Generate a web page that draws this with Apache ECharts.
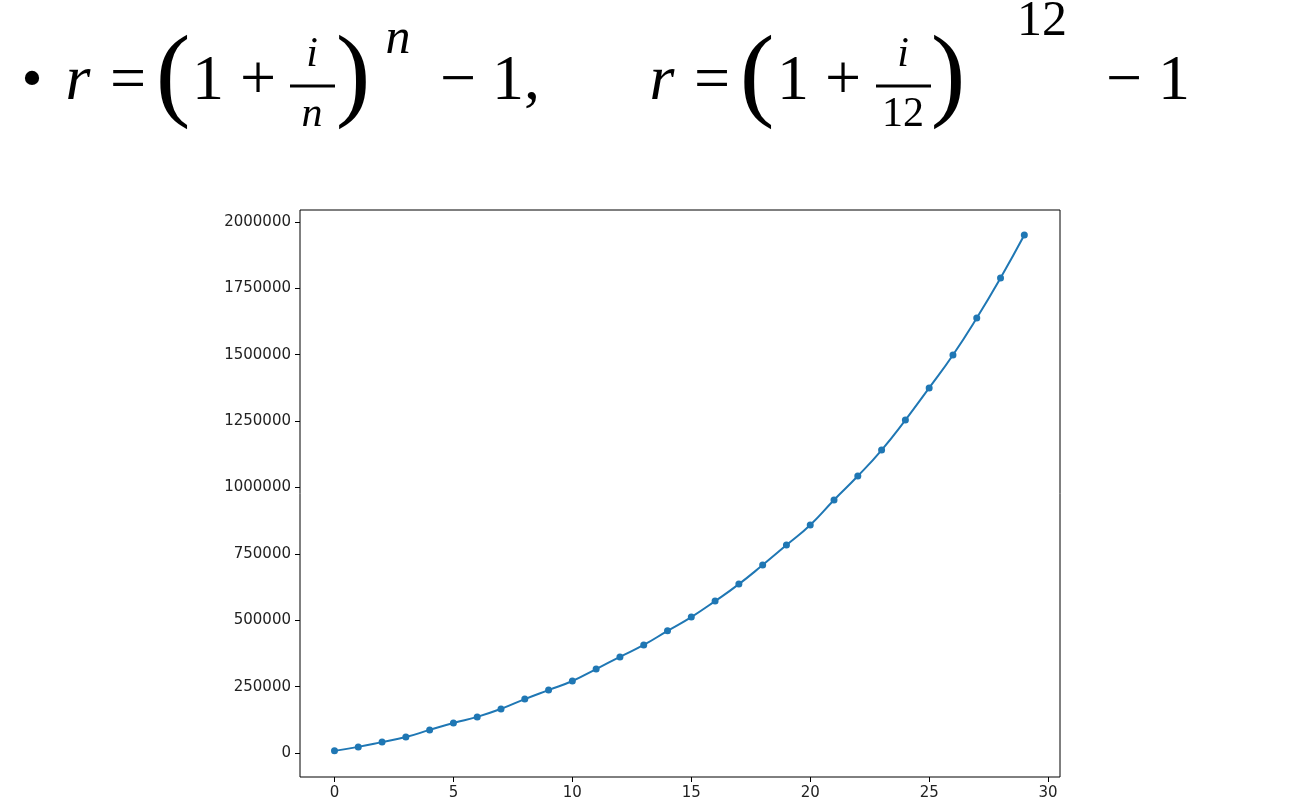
<!DOCTYPE html>
<html>
<head>
<meta charset="utf-8">
<script src="https://cdn.jsdelivr.net/npm/echarts@6/dist/echarts.min.js"></script>
<style>html,body{margin:0;padding:0;background:#fff}#chart{width:1298px;height:811px}</style>
</head>
<body>
<div id="chart"></div>
<script>
// 数据
const years = [0,1,2,3,4,5,6,7,8,9,10,11,12,13,14,15,16,17,18,19,20,21,22,23,24,25,26,27,28,29];
const balances = [8000,23000,41000,60000,87000,113000,136000,166000,203000,237000,271000,316000,362000,407000,460000,512000,572000,636000,708000,783000,859000,953000,1043000,1141000,1254000,1375000,1499000,1638000,1789000,1951000];
const xTicks = [0,5,10,15,20,25,30];
const yTicks = [0,250000,500000,750000,1000000,1250000,1500000,1750000,2000000];

var chart = echarts.init(document.getElementById('chart'));

// 公式文字
const serif = 'Liberation Serif, DejaVu Serif, serif';
function t(text, x, y, size, italic) {
    return {
        type: 'text', x: x, y: y,
        style: {
            text: text, fill: '#000',
            font: (italic ? 'italic ' : '') + size + 'px ' + serif,
            textAlign: 'center', verticalAlign: 'middle', textVerticalAlign: 'middle'
        }
    };
}
function bar(x1, x2, y) {
    return { type: 'line', shape: { x1: x1, y1: y, x2: x2, y2: y }, style: { stroke: '#000', lineWidth: 3 } };
}
const formula = [
    t('•', 32, 82, 60, false),
    t('r', 78, 82, 64, true),
    t('=', 128, 82, 64, false),
    t('(', 173, 80, 104, false),
    t('1', 208, 82, 64, false),
    t('+', 258, 82, 64, false),
    t('i', 312, 55, 42, true),
    bar(290, 335, 86),
    t('n', 312, 115, 42, true),
    t(')', 353, 80, 104, false),
    t('n', 398, 40, 50, true),
    t('− 1,', 490, 82, 64, false),
    t('r', 662, 82, 64, true),
    t('=', 712, 82, 64, false),
    t('(', 757, 80, 104, false),
    t('1', 793, 82, 64, false),
    t('+', 843, 82, 64, false),
    t('i', 903, 55, 42, true),
    bar(876, 931, 86),
    t('12', 903, 115, 42, false),
    t(')', 948, 80, 104, false),
    t('12', 1042, 22, 50, false),
    t('− 1', 1148, 82, 64, false)
];

var option = {
    animation: false,
    graphic: formula,
    grid: {
        left: 300, top: 210, width: 760, height: 567,
        show: true, borderColor: '#000', borderWidth: 1
    },
    xAxis: {
        type: 'value', min: -1.45, max: 30.5,
        splitLine: { show: false },
        axisLine: { show: false, onZero: false },
        axisTick: { show: true, length: 5, inside: false, customValues: xTicks, lineStyle: { color: '#000' } },
        axisLabel: { customValues: xTicks, color: '#222', fontSize: 15, margin: 9, fontFamily: 'DejaVu Sans', formatter: v => String(v) }
    },
    yAxis: {
        type: 'value', min: -90400, max: 2045000,
        splitLine: { show: false },
        axisLine: { show: false, onZero: false },
        axisTick: { show: true, length: 5, inside: false, customValues: yTicks, lineStyle: { color: '#000' } },
        axisLabel: { customValues: yTicks, color: '#222', fontSize: 15, margin: 9, fontFamily: 'DejaVu Sans', formatter: v => String(v) }
    },
    series: [{
        type: 'line',
        data: years.map((x, i) => [x, balances[i]]),
        smooth: true,
        symbol: 'circle',
        symbolSize: 7,
        itemStyle: { color: '#1f77b4' },
        lineStyle: { color: '#1f77b4', width: 2 }
    }]
};
chart.setOption(option);
</script>
</body>
</html>
